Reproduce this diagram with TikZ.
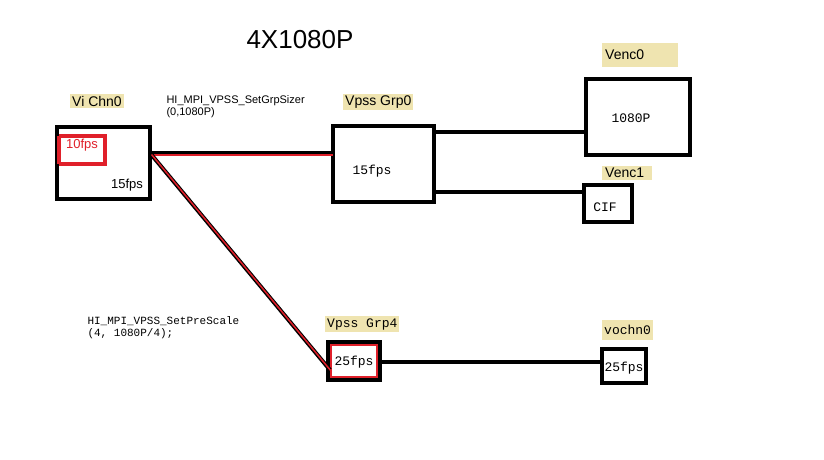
\documentclass[tikz,border=0pt]{standalone}
\usepackage{fontspec}
\setmainfont{Liberation Sans}
\newfontfamily\mono{Liberation Mono}
\definecolor{tan}{HTML}{EFE4B0}
\definecolor{rd}{HTML}{E0202A}
\begin{document}
\begin{tikzpicture}[x=1pt,y=-1pt,
  box/.style={draw=black,line width=4pt,fill=white},
  lbl/.style={fill=tan,inner sep=2pt,font=\fontsize{14}{16}\selectfont,anchor=west},
  txt/.style={font=\fontsize{13}{15}\selectfont},
  wire/.style={line width=4pt}]
\useasboundingbox (0,0) rectangle (824,459);
\node[font=\fontsize{26}{30}\selectfont] (title) at (300,40) {4X1080P};
% Vi Chn0
\draw[box] (57,127) rectangle (150,199);
\coordinate (vi) at (150,153);
\draw[rd,line width=4pt] (59,136) -- (105,136) -- (105,164) -- (59,164);
\draw[rd,line width=4pt] (59,136) -- (59,164);
\node[txt,text=rd] (t10) at (82,145) {10fps};
\node[txt] (t15a) at (127,185) {15fps};
\node[lbl] (lvi) at (70,101) {Vi Chn0};
\node[font=\fontsize{11}{12}\selectfont,anchor=west,align=left] (sgs) at (163,107) {HI\_MPI\_VPSS\_SetGrpSizer\\(0,1080P)};
% Vpss Grp0
\draw[box] (333,126) rectangle (434,202);
\node[lbl] (lg0) at (343,102) {Vpss Grp0};
\node[txt,font=\mono\fontsize{13}{15}\selectfont] (t15b) at (372,171) {15fps};
% Venc0
\draw[box] (586,79) rectangle (690,155);
\node[lbl,minimum width=76pt,minimum height=24pt,text width=70pt] (lv0) at (602,55) {Venc0};
\node[txt,font=\mono\fontsize{13}{15}\selectfont] (t1080) at (631,118) {1080P};
% Venc1
\draw[box] (584,185) rectangle (632,222);
\node[lbl,minimum width=50pt,text width=44pt] (lv1) at (602,173) {Venc1};
\node[txt,font=\mono\fontsize{13}{15}\selectfont] (tcif) at (605,207) {CIF};
% Vpss Grp4
\draw[box] (328,342) rectangle (380,380);
\draw[rd,line width=2pt] (331,345) rectangle (377,377);
\node[lbl,font=\mono\fontsize{13}{15}\selectfont] (lg4) at (325,324) {Vpss Grp4};
\node[txt,font=\mono\fontsize{13}{15}\selectfont] (t25a) at (354,362) {25fps};
% vochn0
\draw[box] (602,349) rectangle (646,383);
\node[lbl,font=\mono\fontsize{13}{15}\selectfont,minimum height=20pt] (lvo) at (602,330) {vochn0};
\node[txt,font=\mono\fontsize{13}{15}\selectfont] (t25b) at (624,368) {25fps};
\node[font=\mono\fontsize{11}{12}\selectfont,anchor=west,align=left] (spc) at (84,328) {HI\_MPI\_VPSS\_SetPreScale\\(4, 1080P/4);};
% wires
\coordinate (g0l) at (333,153);
\coordinate (g4l) at (330,370);
\draw[wire] (vi) -- (g0l);
\draw[rd,line width=2pt] ([yshift=-1.5pt]vi) -- ([yshift=-1.5pt]g0l);
\draw[wire] (vi) -- (g4l);
\draw[rd,line width=1.5pt] ([xshift=1.5pt,yshift=-1.5pt]vi) -- ([xshift=1.5pt,yshift=-1.5pt]g4l);
\coordinate (g0r1) at (434,132); \coordinate (v0l) at (586,132);
\coordinate (g0r2) at (434,192); \coordinate (v1l) at (584,192);
\coordinate (g4r) at (380,362); \coordinate (vol) at (602,362);
\draw[wire] (g0r1) -- (v0l);
\draw[wire] (g0r2) -- (v1l);
\draw[wire] (g4r) -- (vol);
\end{tikzpicture}
\end{document}
